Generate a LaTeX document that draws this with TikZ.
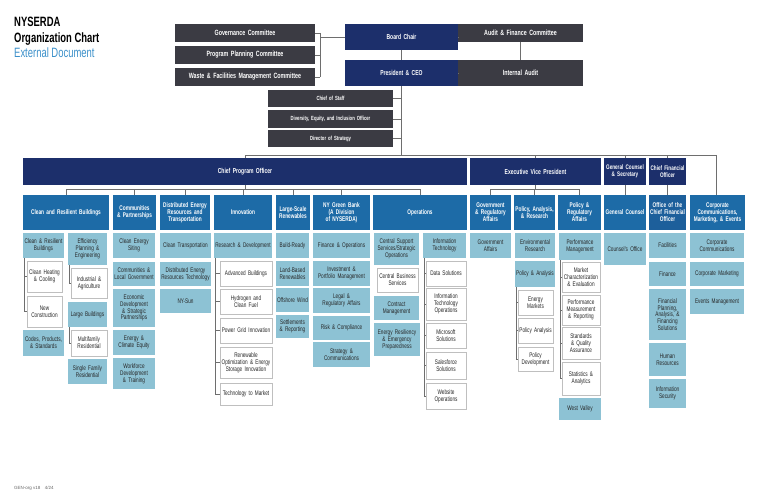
\documentclass[tikz,border=0pt]{standalone}
\usepackage{fontspec}
\setmainfont{Liberation Sans}
\newfontfamily\cond{Liberation Sans}[FakeStretch=0.7]
\usetikzlibrary{calc}
\definecolor{navy}{HTML}{1C2F6B}
\definecolor{midblue}{HTML}{1D6BA7}
\definecolor{lightblue}{HTML}{8DC2D4}
\definecolor{slate}{HTML}{3B3B43}
\definecolor{linegray}{HTML}{6E6E6E}
\definecolor{titleblue}{HTML}{3A8FC9}
\tikzset{
  base/.style={rectangle, inner sep=0pt, align=center, font=\cond\fontsize{6.7}{6.8}\selectfont},
  board/.style={base, fill=slate, text=white, font=\cond\bfseries\fontsize{7.6}{8}\selectfont},
  exec/.style={base, fill=navy, text=white, font=\cond\bfseries\fontsize{7.2}{7.6}\selectfont},
  head/.style={base, fill=midblue, text=white, font=\cond\bfseries\fontsize{6.8}{7}\selectfont},
  unit/.style={base, fill=lightblue, text=black!85},
  sub/.style={base, fill=white, draw=black!25, line width=0.8pt, text=black!85},
  conn/.style={draw=linegray, line width=0.9pt}
}
% box: [extra]{style}{name}{x1}{y1}{x2}{y2}{text}
\newcommand\bx[8][]{%
  \pgfmathsetmacro\bw{#6-#4}\pgfmathsetmacro\bh{#7-#5}%
  \node[#2, minimum width=\bw pt, minimum height=\bh pt, text width=\bw pt-2pt, #1] (#3)
    at ({(#4+#6)/2},{(#5+#7)/2}) {#8};}
\begin{document}
\hyphenpenalty=10000
\exhyphenpenalty=10000
\begin{tikzpicture}[x=1pt, y=-1pt]
\useasboundingbox (0,0) rectangle (768,497);

% title
\node[anchor=north west, inner sep=0pt, align=left, font=\cond\bfseries\fontsize{13.5}{16}\selectfont] (title) at (14,17)
  {NYSERDA\\Organization Chart\\[-1pt]{\mdseries\color{titleblue}External Document}};
\node[anchor=west, inner sep=0pt, font=\fontsize{4.5}{5}\selectfont, text=black!60] (foot) at (14,488) {GEN-org v18\quad 4/24};

% board level
\bx{board}{gov}{175}{24}{315}{42}{Governance Committee}
\bx{board}{ppc}{175}{46}{315}{64}{Program Planning Committee}
\bx{board}{wfm}{175}{68}{315}{86}{Waste \& Facilities Management Committee}
\bx{exec}{chair}{345}{24}{458}{50}{Board Chair}
\bx{exec}{pres}{345}{60}{458}{86}{President \& CEO}
\bx{board}{afc}{458}{24}{583}{42}{Audit \& Finance Committee}
\bx{board}{audit}{458}{60}{583}{86}{Internal Audit}
\bx[font=\cond\bfseries\fontsize{6}{6.5}\selectfont]{board}{cos}{268}{90}{393}{107}{Chief of Staff}
\bx[font=\cond\bfseries\fontsize{6}{6.5}\selectfont]{board}{dei}{268}{110}{393}{128}{Diversity, Equity, and Inclusion Officer}
\bx[font=\cond\bfseries\fontsize{6}{6.5}\selectfont]{board}{dos}{268}{130}{393}{147}{Director of Strategy}

% second level
\bx{exec}{cpo}{23}{158}{467}{185}{Chief Program Officer}
\bx{exec}{evp}{470}{158}{601}{185}{Executive Vice President}
\bx[font=\cond\bfseries\fontsize{6.6}{7}\selectfont]{exec}{gcs}{604}{158}{646}{185}{General Counsel \& Secretary}
\bx[font=\cond\bfseries\fontsize{6.6}{7}\selectfont]{exec}{cfo}{649}{158}{686}{185}{Chief Financial Officer}

% departments
\bx{head}{crbh}{23}{195}{109}{230}{Clean and Resilient Buildings}
\bx{head}{cph}{113}{195}{156}{230}{Communities \& Partnerships}
\bx{head}{derh}{160}{195}{210}{230}{Distributed Energy Resources and Transportation}
\bx{head}{innh}{214}{195}{272}{230}{Innovation}
\bx{head}{lsrh}{276}{195}{310}{230}{Large-Scale Renewables}
\bx{head}{gbh}{313}{195}{370}{230}{NY Green Bank (A~Division of~NYSERDA)}
\bx{head}{opsh}{373}{195}{467}{230}{Operations}
\bx{head}{grah}{470}{195}{511}{230}{Government \& Regulatory Affairs}
\bx{head}{parh}{514}{195}{555}{230}{Policy, Analysis, \& Research}
\bx{head}{prah}{558}{195}{601}{230}{Policy \& Regulatory Affairs}
\bx{head}{gch}{604}{195}{646}{230}{General Counsel}
\bx[fill=midblue!80!navy]{head}{ocfoh}{649}{195}{686}{230}{Office of the Chief Financial Officer}
\bx{head}{ccmh}{690}{195}{745}{230}{Corporate Communications, Marketing, \& Events}

% clean and resilient buildings
\bx{unit}{crb}{23}{233}{64}{258}{Clean \& Resilient Buildings}
\bx{sub}{chc}{27}{261}{62}{292}{Clean Heating \& Cooling}
\bx{sub}{nwc}{27}{296}{62}{327}{New Construction}
\bx{unit}{cps}{23}{330}{64}{356}{Codes, Products, \& Standards}
\bx{unit}{epe}{68}{233}{107}{265}{Efficiency Planning \& Engineering}
\bx{sub}{ina}{71}{268}{107}{298}{Industrial \& Agriculture}
\bx{unit}{lgb}{68}{302}{107}{327}{Large Buildings}
\bx{sub}{mfr}{71}{330}{107}{356}{Multifamily Residential}
\bx{unit}{sfr}{68}{359}{107}{384}{Single Family Residential}

% communities
\bx{unit}{ces}{113}{233}{155}{258}{Clean Energy Siting}
\bx{unit}{clg}{113}{262}{155}{286}{Communities \& Local Government}
\bx{unit}{eds}{113}{289}{155}{327}{Economic Development \& Strategic Partnerships}
\bx{unit}{ece}{113}{330}{155}{355}{Energy \& Climate Equity}
\bx{unit}{wdt}{113}{358}{155}{389}{Workforce Development \& Training}

% distributed energy
\bx{unit}{ctr}{160}{233}{211}{258}{Clean Transportation}
\bx{unit}{dert}{160}{262}{211}{286}{Distributed Energy Resources Technology}
\bx{unit}{nysun}{160}{289}{211}{313}{NY-Sun}

% innovation
\bx{unit}{rnd}{214}{233}{272}{258}{Research \& Development}
\bx{sub}{advb}{220}{261}{272}{286}{Advanced Buildings}
\bx{sub}{hcf}{220}{289}{272}{314}{Hydrogen and\\Clean Fuel}
\bx{sub}{pgi}{220}{318}{272}{343}{Power Grid Innovation}
\bx{sub}{roes}{220}{347}{272}{378}{Renewable Optimization \& Energy Storage Innovation}
\bx{sub}{ttm}{220}{383}{272}{405}{Technology to Market}

% large-scale renewables
\bx{unit}{brd}{276}{233}{309}{258}{Build-Ready}
\bx{unit}{lbr}{276}{261}{309}{286}{Land-Based Renewables}
\bx{unit}{osw}{276}{288}{309}{312}{Offshore Wind}
\bx{unit}{snr}{276}{315}{309}{338}{Settlements \& Reporting}

% green bank
\bx{unit}{fno}{313}{233}{370}{258}{Finance \& Operations}
\bx{unit}{ipm}{313}{261}{370}{286}{Investment \& Portfolio Management}
\bx{unit}{lra}{313}{288}{370}{313}{Legal \& Regulatory Affairs}
\bx{unit}{rsc}{313}{316}{370}{340}{Risk \& Compliance}
\bx{unit}{stc}{313}{342}{370}{367}{Strategy \&\\Communications}

% operations
\bx{unit}{css}{374}{233}{419}{265}{Central Support Services/Strategic Operations}
\bx{sub}{cbs}{377}{268}{418}{292}{Central Business Services}
\bx{unit}{ctm}{374}{296}{419}{320}{Contract Management}
\bx{unit}{erp}{374}{323}{420}{356}{Energy Resiliency \& Emergency Preparedness}
\bx{unit}{itc}{423}{233}{466}{258}{Information Technology}
\bx{sub}{dsol}{426}{261}{466}{286}{Data Solutions}
\bx{sub}{itops}{426}{288}{466}{320}{Information Technology Operations}
\bx{sub}{msol}{426}{323}{466}{348}{Microsoft Solutions}
\bx{sub}{sfsol}{426}{352}{466}{379}{Salesforce Solutions}
\bx{sub}{wops}{426}{383}{466}{409}{Website Operations}

% executive vice president
\bx{unit}{gva}{470}{233}{511}{258}{Government Affairs}
\bx{unit}{envr}{515}{233}{555}{258}{Environmental Research}
\bx{unit}{pna}{515}{261}{555}{287}{Policy \& Analysis}
\bx{sub}{enm}{518}{290}{553}{315}{Energy Markets}
\bx{sub}{pan}{518}{318}{553}{343}{Policy Analysis}
\bx{sub}{pdv}{518}{347}{553}{371}{Policy Development}
\bx{unit}{pfm}{559}{233}{601}{260}{Performance Management}
\bx{sub}{mce}{562}{262}{600}{292}{Market Characterization \& Evaluation}
\bx{sub}{pmr}{562}{295}{600}{325}{Performance Measurement \& Reporting}
\bx{sub}{sqa}{562}{327}{600}{359}{Standards \& Quality Assurance}
\bx{sub}{sta}{562}{362}{600}{395}{Statistics \& Analytics}
\bx{unit}{wvl}{559}{398}{601}{420}{West Valley}

% counsel, finance, communications
\bx{unit}{cof}{604}{233}{646}{265}{Counsel's Office}
\bx{unit}{fac}{649}{233}{686}{258}{Facilities}
\bx{unit}{fin}{649}{262}{686}{286}{Finance}
\bx{unit}{fpa}{649}{289}{686}{340}{Financial Planning, Analysis, \& Financing Solutions}
\bx{unit}{hrs}{649}{343}{686}{376}{Human Resources}
\bx{unit}{isc}{649}{379}{686}{408}{Information Security}
\bx{unit}{cco}{690}{233}{744}{258}{Corporate Communications}
\bx{unit}{cmk}{690}{262}{744}{286}{Corporate Marketing}
\bx{unit}{evm}{690}{289}{744}{314}{Events Management}

% connectors, top
\coordinate (cmb) at (320,0);
\foreach \c in {gov,ppc,wfm} \draw[conn] (\c.east) -- (\c.east -| cmb);
\draw[conn] (gov.east -| cmb) -- (wfm.east -| cmb);
\draw[conn] (cmb |- chair.west) -- (chair.west);
\draw[conn] (chair.east) -- (chair.east -| afc.west);
\draw[conn] (afc.south) -- (audit.north -| afc.south);
\draw[conn, dashed] (pres.east) -- (audit.west);
\draw[conn] (chair.south) -- (pres.north);
\coordinate (busb) at (0,155);
\draw[conn] (pres.south) -- (pres.south |- busb);
\foreach \c in {cos,dei,dos} \draw[conn] (\c.east) -- (\c.east -| pres.south);
\draw[conn] (cpo.north |- busb) -- (716,155) coordinate (ccmdrop);
\foreach \c in {cpo,evp,gcs,cfo} \draw[conn] (\c.north) -- (\c.north |- busb);
\draw[conn] (ccmdrop) -- (ccmdrop |- ccmh.north);

% connectors, departments
\coordinate (busa) at (0,189);
\draw[conn] (cpo.south) -- (cpo.south |- busa);
\draw[conn] (crbh.north |- busa) -- (opsh.north |- busa);
\foreach \c in {crbh,cph,derh,innh,lsrh,gbh,opsh} \draw[conn] (\c.north) -- (\c.north |- busa);
\draw[conn] (evp.south) -- (evp.south |- busa);
\draw[conn] (grah.north |- busa) -- (prah.north |- busa);
\foreach \c in {grah,parh,prah} \draw[conn] (\c.north) -- (\c.north |- busa);
\draw[conn] (gcs.south) -- (gch.north);
\draw[conn] (cfo.south) -- (ocfoh.north);

% brackets
\foreach \p/\c in {crb/chc,crb/nwc,epe/ina,lgb/mfr,rnd/advb,rnd/hcf,rnd/pgi,rnd/roes,rnd/ttm,
    itc/dsol,itc/itops,itc/msol,itc/sfsol,itc/wops,pna/enm,pna/pan,pna/pdv,
    pfm/mce,pfm/pmr,pfm/sqa,pfm/sta}
  \draw[conn, line width=0.7pt] ([xshift=2pt]\p.south west) |- (\c.west);
\end{tikzpicture}
\end{document}
